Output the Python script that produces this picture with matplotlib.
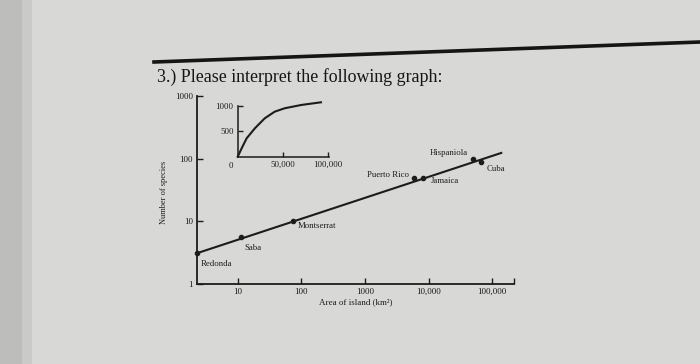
import matplotlib
matplotlib.use("Agg")
import matplotlib.pyplot as plt
from matplotlib.lines import Line2D
from matplotlib.patches import Rectangle

plt.rcParams['font.family'] = ['Liberation Serif', 'DejaVu Serif']

# ---- data ----
islands = ["Redonda", "Saba", "Montserrat", "Puerto Rico", "Jamaica", "Hispaniola", "Cuba"]
area = [2.3, 11.1, 75, 6000, 8060, 50000, 67000]
species = [3.1, 5.6, 10.2, 48.7, 48.7, 99.5, 88]
fit_area = [2.3, 144000]
fit_species = [3.1, 125]

main_xticks = [10, 100, 1000, 10000, 100000]
main_xticklabels = ["10", "100", "1000", "10,000", "100,000"]
main_yticks = [1, 10, 100, 1000]
main_yticklabels = ["1", "10", "100", "1000"]

inset_area = [0, 4400, 9900, 19000, 29900, 40900, 51900, 70200, 92100]
inset_species = [0, 166, 363, 560, 757, 888, 955, 1020, 1073]
inset_xticks = [50000, 100000]
inset_xticklabels = ["50,000", "100,000"]
inset_yticks = [500, 1000]
inset_yticklabels = ["500", "1000"]

W, H = 700, 364
fig = plt.figure(figsize=(7, 3.64), dpi=100)
fig.patch.set_facecolor('#d8d8d6')

def fx(px):
    return px / W

def fy(py):
    return 1 - py / H

# paper left edge shading
fig.patches.append(Rectangle((0, 0), fx(22), 1, transform=fig.transFigure,
                             facecolor='#bdbdbb', edgecolor='none', zorder=0))
fig.patches.append(Rectangle((fx(22), 0), fx(10), 1, transform=fig.transFigure,
                             facecolor='#cacac8', edgecolor='none', zorder=0))

# top rule line
fig.add_artist(Line2D([fx(154), 1.0], [fy(62), fy(42)], transform=fig.transFigure,
                      color='#151515', lw=2.6))

# title
fig.text(fx(157), fy(77), "3.) Please interpret the following graph:",
         fontsize=12.9, color='#151515', va='center', ha='left')

ink = '#1c1c1c'

# ---- main axes ----
left, right = 197, 514
bottom, top = 284, 96
ax = fig.add_axes([fx(left), fy(bottom), fx(right - left), fy(top) - fy(bottom)])
ax.set_facecolor('none')
ax.set_xscale('log')
ax.set_yscale('log')
ax.set_xlim(2.3, 2.2e5)
ax.set_ylim(1, 1000)
for s in ['top', 'right']:
    ax.spines[s].set_visible(False)
for s in ['left', 'bottom']:
    ax.spines[s].set_color(ink)
    ax.spines[s].set_linewidth(1.3)

ax.plot(fit_area, fit_species, color=ink, lw=1.5, solid_capstyle='butt', clip_on=False)
ax.plot(area, species, 'o', color=ink, ms=3, clip_on=False)

ax.set_xticks(main_xticks + [2.2e5])
ax.set_xticklabels(main_xticklabels + [""])
ax.set_yticks(main_yticks)
ax.set_yticklabels(main_yticklabels)
ax.minorticks_off()
ax.tick_params(axis='both', direction='in', length=4, width=1, color=ink,
               labelsize=6.5, labelcolor=ink, pad=3)

offsets = {
    "Redonda": (3, -5, 'left', 'top'),
    "Saba": (3, -5, 'left', 'top'),
    "Montserrat": (3, -1, 'left', 'top'),
    "Puerto Rico": (-4, 2, 'right', 'center'),
    "Jamaica": (6, -2, 'left', 'center'),
    "Hispaniola": (-4, 4, 'right', 'center'),
    "Cuba": (4, -5, 'left', 'center'),
}
for name, a, sp in zip(islands, area, species):
    dx, dy, ha, va = offsets[name]
    ax.annotate(name, (a, sp), xytext=(dx, dy), textcoords='offset points',
                fontsize=6.3, color=ink, ha=ha, va=va)

fig.text(fx(356), fy(302), "Area of island (km²)", fontsize=6.5, color=ink,
         ha='center', va='center')
fig.text(fx(164), fy(192), "Number of species", fontsize=6, color=ink,
         ha='center', va='center', rotation=90)

# ---- inset ----
il, ir = 237.7, 329
ib, it = 156.7, 106
iax = fig.add_axes([fx(il), fy(ib), fx(ir - il), fy(it) - fy(ib)])
iax.set_facecolor('none')
iax.set_xlim(0, 101000)
iax.set_ylim(0, 1000)
for s in ['top', 'right']:
    iax.spines[s].set_visible(False)
for s in ['left', 'bottom']:
    iax.spines[s].set_color(ink)
    iax.spines[s].set_linewidth(1.1)
iax.plot(inset_area, inset_species, color=ink, lw=1.5, clip_on=False)
iax.set_xticks(inset_xticks)
iax.set_xticklabels(inset_xticklabels)
iax.set_yticks(inset_yticks)
iax.set_yticklabels(inset_yticklabels)
iax.tick_params(axis='both', direction='in', length=3.5, width=1, color=ink,
                labelsize=6.3, labelcolor=ink, pad=3)
fig.text(fx(231), fy(166), "0", fontsize=6.3, color=ink, ha='center', va='center')

fig.savefig("out.png", dpi=100, facecolor=fig.get_facecolor())
